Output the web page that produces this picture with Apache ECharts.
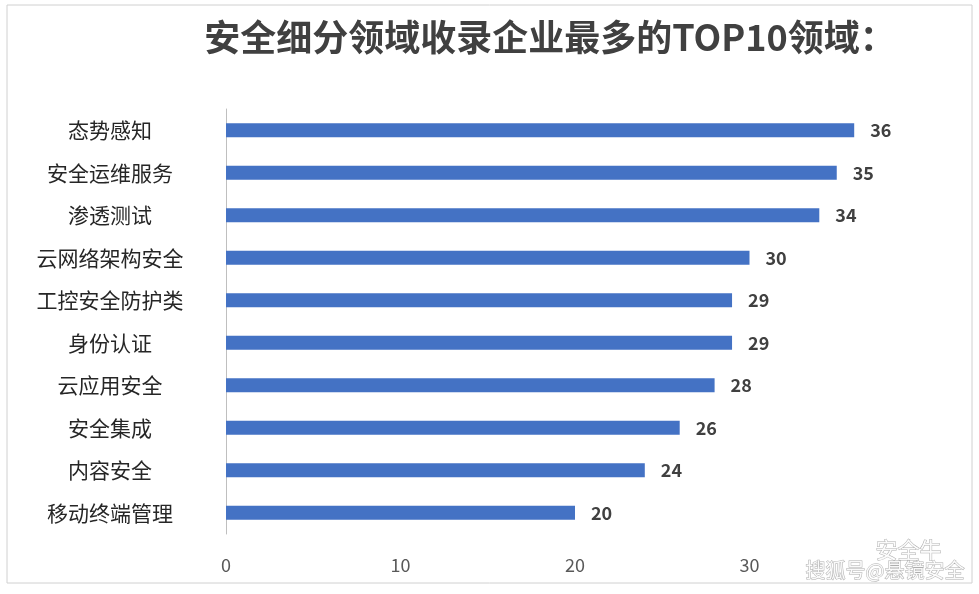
<!DOCTYPE html>
<html><head><meta charset="utf-8">
<script src="https://cdn.jsdelivr.net/npm/echarts@6/dist/echarts.min.js"></script>
<style>html,body{margin:0;padding:0;background:#fff}#c{width:979px;height:594px}</style>
</head><body><div id="c"></div>
<script>
const categories = ['态势感知','安全运维服务','渗透测试','云网络架构安全','工控安全防护类','身份认证','云应用安全','安全集成','内容安全','移动终端管理'];
const values = [36,35,34,30,29,29,28,26,24,20];
const chart = echarts.init(document.getElementById('c'));
const font = '"Noto Sans CJK SC", sans-serif';
chart.setOption({
  animation:false,
  title:{text:'安全细分领域收录企业最多的TOP10领域：',left:545,top:14,textAlign:'center',
    textStyle:{fontFamily:font,fontSize:36,fontWeight:'bold',color:'#404040'}},
  grid:{left:226,right:55,top:109,bottom:60},
  xAxis:{type:'value',min:0,max:40,interval:10,splitLine:{show:false},axisLine:{show:false},axisTick:{show:false},
    axisLabel:{fontFamily:font,fontSize:18,color:'#595959',margin:22,showMaxLabel:false}},
  yAxis:{type:'category',inverse:true,data:categories,
    axisLine:{show:true,lineStyle:{color:'#bfbfbf'}},axisTick:{show:false},
    axisLabel:{fontFamily:font,fontSize:21,color:'#262626',align:'center',margin:116}},
  series:[{type:'bar',data:values,barWidth:14,itemStyle:{color:'#4472C4'},
    label:{show:true,position:'right',distance:16,fontFamily:font,fontSize:18,fontWeight:'bold',color:'#404040'}}],
  graphic:[
    {type:'rect',shape:{x:7,y:5,width:965,height:578},style:{fill:'none',stroke:'#d0d0d0',lineWidth:1},silent:true},
    {type:'text',left:875,top:538,style:{text:'安全牛',font:'22px "Noto Sans CJK SC"',fill:'rgba(255,255,255,0.9)',stroke:'rgba(120,120,120,0.6)',lineWidth:1}},
    {type:'text',left:805,top:560,style:{text:'搜狐号@悬镜安全',font:'20px "Noto Sans CJK SC"',fill:'rgba(255,255,255,0.9)',stroke:'rgba(120,120,120,0.6)',lineWidth:1}}
  ]
});
</script></body></html>
